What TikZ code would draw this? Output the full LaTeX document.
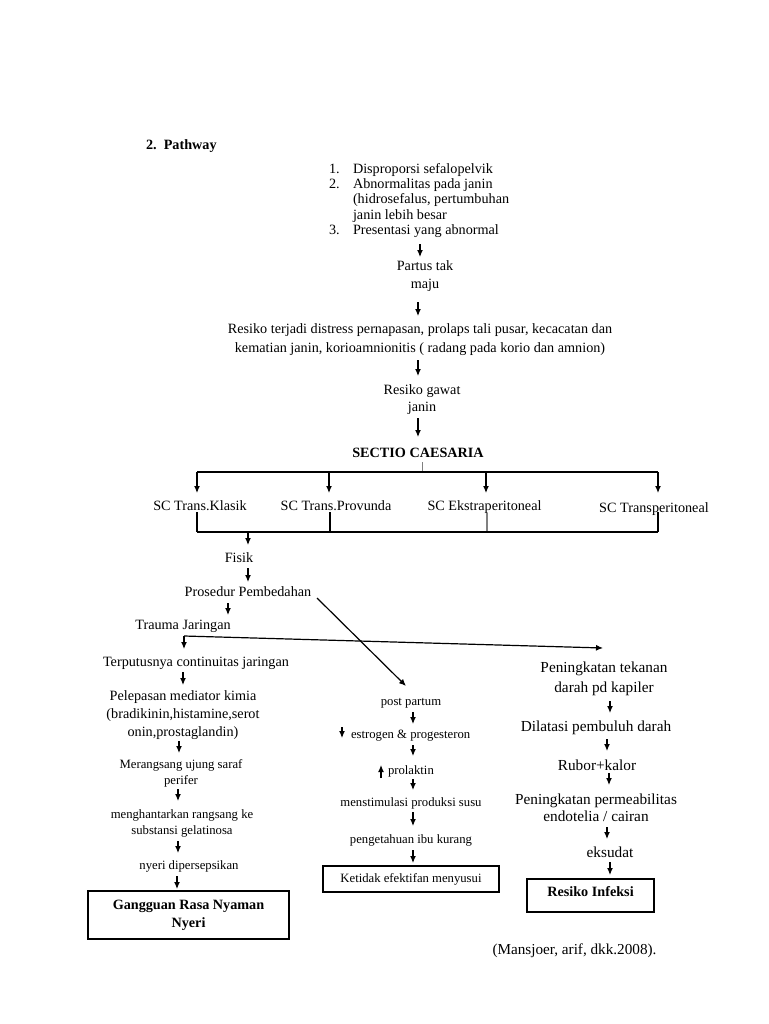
\documentclass[tikz,border=0pt]{standalone}
\usepackage{fontspec}
\setmainfont{Liberation Serif}
\usetikzlibrary{arrows.meta}
\begin{document}
\begin{tikzpicture}[x=1pt,y=-1pt,
  every node/.style={inner sep=0pt, outer sep=0pt},
  one/.style={text height=10pt, text depth=0pt},
  txt/.style={font=\fontsize{14.2}{18}\selectfont, align=center},
  bld/.style={font=\fontsize{14.2}{18}\selectfont\bfseries, align=center},
  sml/.style={font=\fontsize{12.7}{16}\selectfont, align=center},
  rgt/.style={font=\fontsize{15.3}{20}\selectfont, align=center},
  cite/.style={font=\fontsize{15.2}{18}\selectfont},
  arr/.style={-{Latex[length=7pt,width=6pt]}, line width=1.2pt},
  ln/.style={line width=1.1pt},
  thin/.style={line width=0.6pt, gray},
  boxed/.style={draw, line width=1.1pt}
]
\fill[white] (0,0) rectangle (768,1024);
\useasboundingbox (0,0) rectangle (768,1024);

% ---------- title and causes ----------
\node[bld, one, anchor=west] (title) at (146,145) {2.\hspace{0.5em}Pathway};
\node[txt, one, anchor=west] (n1) at (329,169) {1.};
\node[txt, one, anchor=west] (l1) at (353,169) {Disproporsi sefalopelvik};
\node[txt, one, anchor=west] (n2) at (329,184) {2.};
\node[txt, one, anchor=west] (l2) at (353,184) {Abnormalitas pada janin};
\node[txt, one, anchor=west] (l2b) at (353,199) {(hidrosefalus, pertumbuhan};
\node[txt, one, anchor=west] (l2c) at (353,214) {janin lebih besar};
\node[txt, one, anchor=west] (n3) at (329,230) {3.};
\node[txt, one, anchor=west] (l3) at (353,230) {Presentasi yang abnormal};

\node[txt] (partus) at (425,276) {Partus tak\\maju};
\node[txt, font=\fontsize{14.2}{19}\selectfont] (resiko) at (420,339.5)
  {Resiko terjadi distress pernapasan, prolaps tali pusar, kecacatan dan\\
   kematian janin, korioamnionitis ( radang pada korio dan amnion)};
\node[txt, font=\fontsize{14.2}{17}\selectfont] (gawat) at (422,399.5) {Resiko gawat\\janin};
\node[bld, one] (sectio) at (418,452) {SECTIO CAESARIA};

\node[txt, one] (sc1) at (200,505) {SC Trans.Klasik};
\node[txt, one] (sc2) at (336,505) {SC Trans.Provunda};
\node[txt, one] (sc3) at (484.5,505) {SC Ekstraperitoneal};
\node[txt, one] (sc4) at (654,507) {SC Transperitoneal};

% ---------- left column ----------
\node[txt, one] (fisik) at (239,557) {Fisik};
\node[txt, one] (prosedur) at (248,591) {Prosedur Pembedahan};
\node[txt, one] (trauma) at (183,624) {Trauma Jaringan};
\node[txt, one] (terputus) at (196,661) {Terputusnya continuitas jaringan};
\node[txt] (pelepasan) at (183,715)
  {Pelepasan mediator kimia\\(bradikinin,histamine,serot\\onin,prostaglandin)};
\node[sml] (merangsang) at (181,773) {Merangsang ujung saraf\\perifer};
\node[sml] (hantar) at (182,823) {menghantarkan rangsang ke\\substansi gelatinosa};
\node[sml, one] (nyeri) at (189,864) {nyeri dipersepsikan};
\node[bld, boxed, minimum width=201pt, minimum height=48pt] (gangguan) at (188.5,915)
  {Gangguan Rasa Nyaman\\Nyeri};

% ---------- middle column ----------
\node[sml, one] (post) at (411,700) {post partum};
\node[sml, one, anchor=west] (estro) at (351,733) {estrogen \& progesteron};
\node[sml, one, anchor=west] (prol) at (388,769) {prolaktin};
\node[sml, one] (stim) at (411,801) {menstimulasi produksi susu};
\node[sml, one] (tahu) at (411,838) {pengetahuan ibu kurang};
\node[sml, boxed, minimum width=176pt, minimum height=26pt] (menyusui) at (411,879)
  {Ketidak efektifan menyusui};

% ---------- right column ----------
\node[rgt] (tekanan) at (604,679) {Peningkatan tekanan\\darah pd kapiler};
\node[rgt, one] (dilatasi) at (596,726) {Dilatasi pembuluh darah};
\node[rgt, one] (rubor) at (597,765) {Rubor+kalor};
\node[rgt, font=\fontsize{15.3}{16.5}\selectfont] (permea) at (596,808)
  {Peningkatan permeabilitas\\endotelia / cairan};
\node[rgt, one] (eksudat) at (610,852) {eksudat};
\node[bld, boxed, text height=10pt, text depth=9pt, minimum width=127pt, minimum height=33pt]
  (infeksi) at (590.5,895.5) {Resiko Infeksi};

\node[cite, one] (cite) at (574.5,949) {(Mansjoer, arif, dkk.2008).};

% ---------- connector points ----------
\coordinate (a1s) at (420,244); \coordinate (a1e) at (420,257);
\coordinate (a2s) at (418,302); \coordinate (a2e) at (418,316);
\coordinate (a3s) at (418,360); \coordinate (a3e) at (418,376);
\coordinate (a4s) at (418,418); \coordinate (a4e) at (418,437);
\coordinate (tks) at (422,462); \coordinate (tke) at (422,472);
\coordinate (bL) at (197,472); \coordinate (bR) at (658,472);
\coordinate (b2) at (329,472); \coordinate (b3) at (486,472);
\coordinate (t1) at (197,493); \coordinate (t2) at (329,493);
\coordinate (t3) at (486,493); \coordinate (t4) at (658,493);
\coordinate (u1) at (197,512); \coordinate (u2) at (330,512);
\coordinate (u3) at (487,513); \coordinate (u4) at (658,512);
\coordinate (d1) at (197,532); \coordinate (d2) at (330,532);
\coordinate (d3) at (487,532); \coordinate (d4) at (658,532);
\coordinate (a5s) at (248,532); \coordinate (a5e) at (248,545);
\coordinate (a6s) at (248,568); \coordinate (a6e) at (248,582);
\coordinate (a7s) at (228,603); \coordinate (a7e) at (228,615);
\coordinate (xs) at (184,636); \coordinate (xd) at (184,649); \coordinate (xr) at (603,648);
\coordinate (dgs) at (317,598); \coordinate (dge) at (406,686);
\coordinate (a8s) at (183,672); \coordinate (a8e) at (183,685);
\coordinate (a9s) at (179,741); \coordinate (a9e) at (179,753);
\coordinate (a10s) at (178,789); \coordinate (a10e) at (178,801);
\coordinate (a11s) at (178,841); \coordinate (a11e) at (178,853);
\coordinate (a12s) at (177,876); \coordinate (a12e) at (177,889);
\coordinate (a13s) at (413,712); \coordinate (a13e) at (413,724);
\coordinate (dns) at (342,727); \coordinate (dne) at (342,738);
\coordinate (a14s) at (413,745); \coordinate (a14e) at (413,756);
\coordinate (ups) at (381,778); \coordinate (upe) at (381,765);
\coordinate (a15s) at (413,779); \coordinate (a15e) at (413,790);
\coordinate (a16s) at (413,812); \coordinate (a16e) at (413,826);
\coordinate (a17s) at (413,850); \coordinate (a17e) at (413,863);
\coordinate (a18s) at (610,701); \coordinate (a18e) at (610,713);
\coordinate (a19s) at (607,739); \coordinate (a19e) at (607,751);
\coordinate (a20s) at (609,773); \coordinate (a20e) at (609,785);
\coordinate (a21s) at (607,827); \coordinate (a21e) at (607,839);
\coordinate (a22s) at (610,862); \coordinate (a22e) at (610,875);

% ---------- connectors ----------
\draw[arr] (a1s) -- (a1e);
\draw[arr] (a2s) -- (a2e);
\draw[arr] (a3s) -- (a3e);
\draw[arr] (a4s) -- (a4e);
\draw[thin] (tks) -- (tke);
\draw[ln] (bL) -- (bR);
\draw[arr] (bL) -- (t1);
\draw[arr] (b2) -- (t2);
\draw[arr] (b3) -- (t3);
\draw[arr] (bR) -- (t4);
\draw[ln] (u1) -- (d1);
\draw[ln] (u2) -- (d2);
\draw[ln, gray] (u3) -- (d3);
\draw[ln] (u4) -- (d4);
\draw[ln] (d1) -- (d4);
\draw[arr] (a5s) -- (a5e);
\draw[arr] (a6s) -- (a6e);
\draw[arr] (a7s) -- (a7e);
\draw[arr] (xs) -- (xd);
\draw[arr] (xs) -- (xr);
\draw[arr] (dgs) -- (dge);
\draw[arr] (a8s) -- (a8e);
\draw[arr] (a9s) -- (a9e);
\draw[arr] (a10s) -- (a10e);
\draw[arr] (a11s) -- (a11e);
\draw[arr] (a12s) -- (a12e);
\draw[arr] (a13s) -- (a13e);
\draw[arr] (dns) -- (dne);
\draw[arr] (a14s) -- (a14e);
\draw[arr] (ups) -- (upe);
\draw[arr] (a15s) -- (a15e);
\draw[arr] (a16s) -- (a16e);
\draw[arr] (a17s) -- (a17e);
\draw[arr] (a18s) -- (a18e);
\draw[arr] (a19s) -- (a19e);
\draw[arr] (a20s) -- (a20e);
\draw[arr] (a21s) -- (a21e);
\draw[arr] (a22s) -- (a22e);
\end{tikzpicture}
\end{document}
